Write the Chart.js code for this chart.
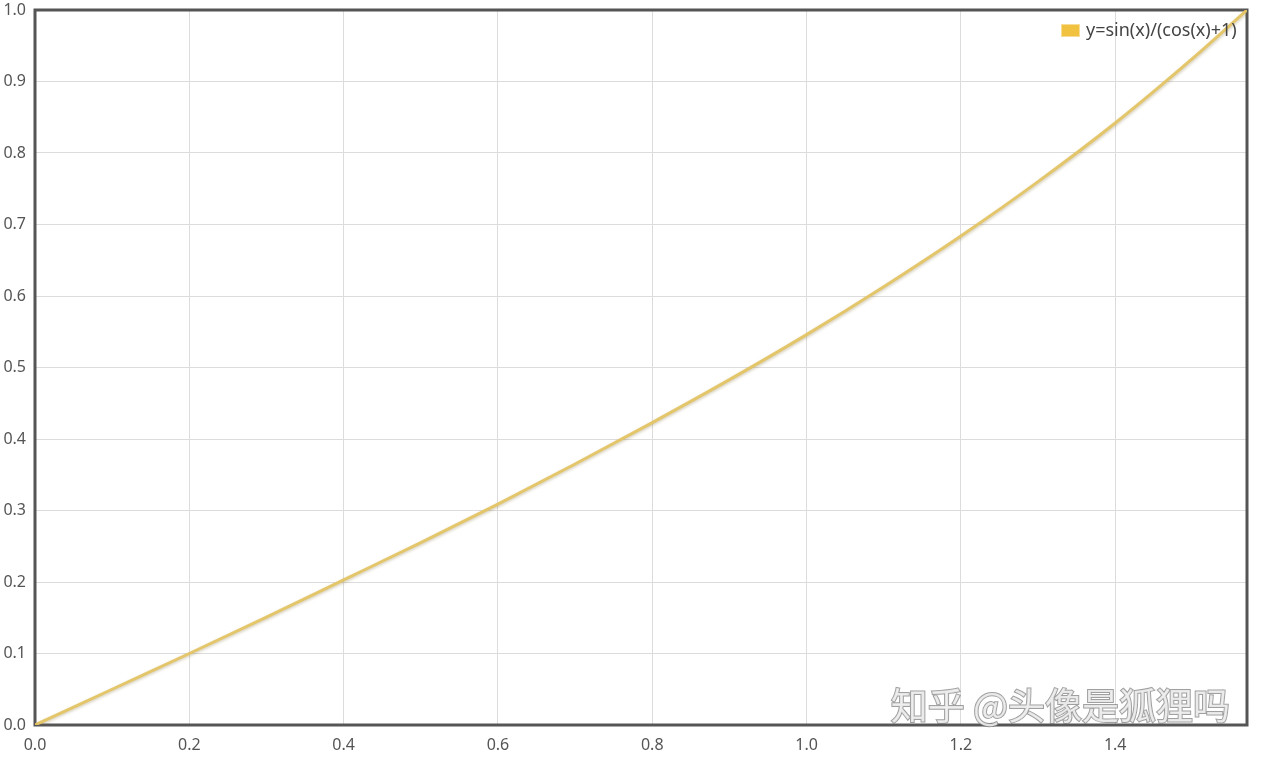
<!DOCTYPE html>
<html>
<head>
<meta charset="utf-8">
<script src="https://cdn.jsdelivr.net/npm/chart.js@4/dist/chart.umd.min.js"></script>
<style>
html,body{margin:0;padding:0;background:#fff;}
#wrap{width:1263px;height:757px;position:relative;}
</style>
</head>
<body>
<div id="wrap"><canvas id="c" width="1263" height="757"></canvas></div>
<script>
// Data
const seriesLabel = 'y=sin(x)/(cos(x)+1)';
const xValues = [0, 0.1, 0.2, 0.3, 0.4, 0.5, 0.6, 0.7, 0.8, 0.9, 1.0, 1.1, 1.2, 1.3, 1.4, 1.5, 1.5708];
const yValues = [0, 0.05, 0.10, 0.151, 0.203, 0.255, 0.309, 0.365, 0.423, 0.483, 0.546, 0.613, 0.684, 0.760, 0.842, 0.932, 1.0];
const xTicks = [0, 0.2, 0.4, 0.6, 0.8, 1.0, 1.2, 1.4];
const yTicks = [0, 0.1, 0.2, 0.3, 0.4, 0.5, 0.6, 0.7, 0.8, 0.9, 1.0];
const watermark = '知乎 @头像是狐狸吗';

const points = xValues.map((x, i) => ({x: x, y: yValues[i]}));

const framePlugin = {
  id: 'frame',
  beforeDatasetsDraw(chart) {
    const {ctx, chartArea: a} = chart;
    ctx.save();
    ctx.strokeStyle = '#555';
    ctx.lineWidth = 3;
    ctx.strokeRect(a.left, a.top, a.right - a.left, a.bottom - a.top);
    ctx.restore();
  },
  beforeDatasetDraw(chart) {
    const ctx = chart.ctx;
    ctx.save();
    ctx.shadowColor = 'rgba(120,100,40,0.35)';
    ctx.shadowBlur = 3;
    ctx.shadowOffsetX = 1;
    ctx.shadowOffsetY = 1;
  },
  afterDatasetDraw(chart) {
    chart.ctx.restore();
  },
  afterDatasetsDraw(chart) {
    const {ctx, chartArea: a} = chart;
    const ds = chart.data.datasets[0];
    ctx.save();
    // legend
    const bx = a.right - 186, by = a.top + 14;
    ctx.fillStyle = '#f0c23f';
    ctx.fillRect(bx, by, 19, 13);
    ctx.strokeStyle = '#f7dd97';
    ctx.lineWidth = 1;
    ctx.strokeRect(bx + 0.5, by + 0.5, 18, 12);
    ctx.fillStyle = '#444';
    ctx.font = '18px "Noto Sans", sans-serif';
    ctx.textBaseline = 'middle';
    ctx.textAlign = 'left';
    ctx.fillText(ds.label, bx + 25, by + 7);
    // watermark
    ctx.font = '37px "Noto Sans CJK SC", sans-serif';
    ctx.textAlign = 'right';
    ctx.textBaseline = 'alphabetic';
    ctx.lineWidth = 2;
    ctx.strokeStyle = 'rgba(120,120,120,0.7)';
    ctx.strokeText(watermark, a.right - 17, a.bottom - 5);
    ctx.fillStyle = 'rgba(240,240,240,0.9)';
    ctx.fillText(watermark, a.right - 17, a.bottom - 5);
    ctx.restore();
  }
};

new Chart(document.getElementById('c'), {
  type: 'line',
  data: {
    datasets: [{
      label: seriesLabel,
      data: points,
      borderColor: 'rgba(228,196,100,0.95)',
      borderWidth: 3,
      pointRadius: 0,
      tension: 0.4,
      cubicInterpolationMode: 'monotone',
      fill: false
    }]
  },
  options: {
    responsive: false,
    animation: false,
    layout: {padding: {top: 10, right: 16, left: 0, bottom: 0}},
    plugins: {legend: {display: false}, tooltip: {enabled: false}},
    scales: {
      x: {
        type: 'linear',
        min: 0,
        max: 1.5708,
        afterBuildTicks(s) { s.ticks = xTicks.map(v => ({value: v})); },
        afterFit(s) { s.height = 32; s.paddingLeft = 0; s.paddingRight = 0; },
        grid: {color: '#dcdcdc', lineWidth: 1, drawTicks: false},
        border: {display: false},
        ticks: {
          color: '#555',
          font: {family: '"Noto Sans", sans-serif', size: 16},
          padding: 11,
          maxRotation: 0,
          autoSkip: false,
          callback: v => Number(v).toFixed(1)
        }
      },
      y: {
        min: 0,
        max: 1,
        afterBuildTicks(s) { s.ticks = yTicks.map(v => ({value: v})); },
        afterFit(s) { s.width = 35; s.paddingTop = 0; s.paddingBottom = 0; },
        grid: {color: '#dcdcdc', lineWidth: 1, drawTicks: false},
        border: {display: false},
        ticks: {
          color: '#555',
          font: {family: '"Noto Sans", sans-serif', size: 16},
          padding: 9,
          autoSkip: false,
          callback: v => Number(v).toFixed(1)
        }
      }
    }
  },
  plugins: [framePlugin]
});
</script>
</body>
</html>
